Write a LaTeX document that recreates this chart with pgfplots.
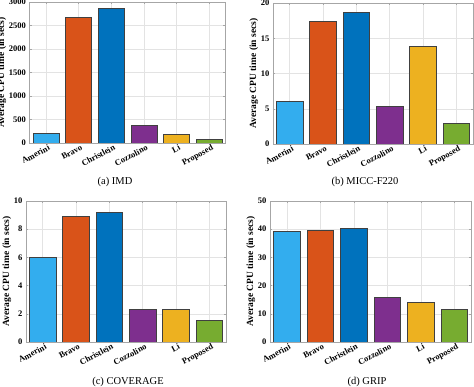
\documentclass[border=0pt]{standalone}
\usepackage{fontspec}
\setmainfont{Liberation Serif}
\usepackage{pgfplots}
\pgfplotsset{compat=1.18}
\definecolor{cA}{RGB}{51,173,238}
\definecolor{cB}{RGB}{217,83,25}
\definecolor{cC}{RGB}{0,114,189}
\definecolor{cD}{RGB}{126,47,142}
\definecolor{cE}{RGB}{237,177,32}
\definecolor{cF}{RGB}{119,172,48}
\pgfplotsset{
  cpu/.style={
    scale only axis, height=141pt, anchor=south west,
    xmin=0.5, xmax=6.5, ymin=0,
    xtick={1,2,3,4,5,6},
    xticklabels={Amerini,Bravo,Christlein,Cozzolino,Li,Proposed},
    xticklabel style={rotate=28, anchor=north east, inner sep=1pt, yshift=-1pt, xshift=2pt},
    ticklabel style={font=\bfseries\fontsize{8.5}{9}\selectfont},
    /pgf/number format/assume math mode=true,
    /pgf/number format/1000 sep={},
    scaled y ticks=false,
    ylabel={Average CPU time (in secs)},
    ylabel style={font=\bfseries\fontsize{9.5}{10}\selectfont, yshift=-4pt},
    grid=major, major grid style={gray!22, line width=0.4pt},
    axis line style={gray!70, line width=0.5pt},
    tick style={gray!70, line width=0.4pt},
    tick align=inside, major tick length=2pt,
    every axis plot/.append style={ybar, bar width=0.8, bar shift=0pt, draw=black!75, line width=0.5pt},
  }
}
\begin{document}
\begin{tikzpicture}
% (a) IMD
\begin{axis}[cpu, at={(29.5pt,244pt)}, width=196pt, ymax=3000, ytick={0,500,...,3000}]
\addplot[fill=cA] coordinates {(1,212)};
\addplot[fill=cB] coordinates {(2,2685)};
\addplot[fill=cC] coordinates {(3,2866)};
\addplot[fill=cD] coordinates {(4,367)};
\addplot[fill=cE] coordinates {(5,184)};
\addplot[fill=cF] coordinates {(6,85)};
\end{axis}
% (b) MICC-F220
\begin{axis}[cpu, at={(273pt,243pt)}, width=200pt, ymax=20, ytick={0,5,...,20}]
\addplot[fill=cA] coordinates {(1,6.07)};
\addplot[fill=cB] coordinates {(2,17.4)};
\addplot[fill=cC] coordinates {(3,18.67)};
\addplot[fill=cD] coordinates {(4,5.3)};
\addplot[fill=cE] coordinates {(5,13.9)};
\addplot[fill=cF] coordinates {(6,2.94)};
\end{axis}
% (c) COVERAGE
\begin{axis}[cpu, at={(26pt,45pt)}, width=200pt, ymax=10, ytick={0,2,...,10}]
\addplot[fill=cA] coordinates {(1,6.02)};
\addplot[fill=cB] coordinates {(2,8.93)};
\addplot[fill=cC] coordinates {(3,9.22)};
\addplot[fill=cD] coordinates {(4,2.32)};
\addplot[fill=cE] coordinates {(5,2.32)};
\addplot[fill=cF] coordinates {(6,1.52)};
\end{axis}
% (d) GRIP
\begin{axis}[cpu, at={(270pt,45pt)}, width=201pt, ymax=50, ytick={0,10,...,50}]
\addplot[fill=cA] coordinates {(1,39.4)};
\addplot[fill=cB] coordinates {(2,39.6)};
\addplot[fill=cC] coordinates {(3,40.3)};
\addplot[fill=cD] coordinates {(4,15.8)};
\addplot[fill=cE] coordinates {(5,14.0)};
\addplot[fill=cF] coordinates {(6,11.6)};
\end{axis}
\node[font=\fontsize{10.5}{12}\selectfont] at (115pt,205pt) {(a) IMD};
\node[font=\fontsize{10.5}{12}\selectfont] at (365pt,205pt) {(b) MICC-F220};
\node[font=\fontsize{10.5}{12}\selectfont] at (128pt,5pt) {(c) COVERAGE};
\node[font=\fontsize{10.5}{12}\selectfont] at (367pt,5pt) {(d) GRIP};
\pgfresetboundingbox
\path[use as bounding box] (0pt,0pt) rectangle (474pt,387pt);
\end{tikzpicture}
\end{document}
